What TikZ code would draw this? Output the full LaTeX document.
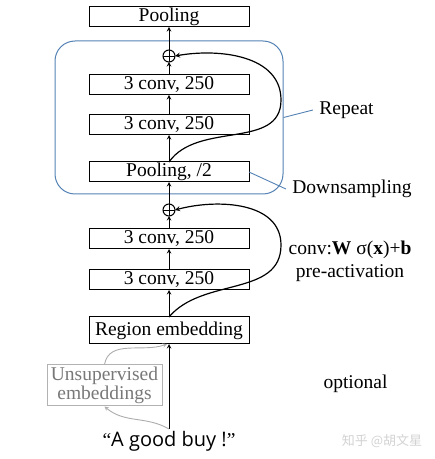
\documentclass[tikz,border=0pt]{standalone}
\usepackage{fontspec}
\setmainfont{Liberation Serif}
\newfontfamily\quotefont{Open Sans}
\newfontfamily\cjkfont{Noto Sans CJK SC}
\usetikzlibrary{positioning}
\usetikzlibrary{arrows}
\usetikzlibrary{shapes}
\definecolor{boxblue}{RGB}{84,130,180}
\definecolor{embedgray}{RGB}{120,120,120}
\tikzset{
        textnode/.style={align=center,inner sep=0pt,font=\fontsize{19.5}{23}\selectfont},
        % Layer boxes
        layer/.style={textnode, rectangle, draw=black, line width=1pt, outer sep=0pt, minimum width=160pt, minimum height=20pt},
        % Addition nodes
        addnode/.style={circle, draw=black, line width=1pt, outer sep=0pt, inner sep=0pt, minimum size=12pt,
            path picture={\draw[line width=0.8pt] (path picture bounding box.north) -- (path picture bounding box.south)
                (path picture bounding box.west) -- (path picture bounding box.east);}},
        % Repeated block
        repeatbox/.style={rectangle, rounded corners=20pt, draw=boxblue, line width=1pt, minimum width=228pt, minimum height=153pt},
        % Side labels
        sidelabel/.style={textnode, inner sep=6pt},
        callout/.style={draw=boxblue, line width=0.9pt},
        % Optional embedding input
        embedbox/.style={textnode, rectangle, draw=gray!60, text=embedgray, line width=1pt, minimum width=115pt, minimum height=41pt,
            font=\fontsize{19.5}{19}\selectfont},
        embedarrow/.style={->, draw=gray!65, line width=0.9pt},
        % Skip connections
        skip/.style={->, line width=1.2pt}
}

\begin{document}
\begin{tikzpicture}[x=1pt, y=1pt, >=stealth, line width=1pt]
    \useasboundingbox (0,0) rectangle (435,459);

    \node[layer, minimum height=27pt] (region) at (169,128.5) {Region embedding};
    \node[layer, above=27pt of region] (conv1) {3 conv, 250};
    \node[layer, above=21pt of conv1] (conv2) {3 conv, 250};
    \node[addnode, above=13pt of conv2] (plus2) {};
    \node[layer, above=22pt of plus2] (pool2) {Pooling, /2};
    \node[layer, above=27pt of pool2] (conv3) {3 conv, 250};
    \node[layer, above=20pt of conv3] (conv4) {3 conv, 250};
    \node[addnode, above=13pt of conv4] (plus1) {};
    \node[layer, above=23pt of plus1] (pool) {Pooling};

    \node[repeatbox] (rep) at (169,341.5) {};

    \node[sidelabel] (reptxt) at (346.5,349) {Repeat};
    \node[sidelabel] (down) at (352,270) {Downsampling};
    \node[sidelabel] (convtxt) at (350,198) {conv:\textbf{W} σ(\textbf{x})+\textbf{b}\\pre-activation};
    \node[sidelabel] (opt) at (355.5,75.5) {optional};

    \node[embedbox] (unsup) at (104.5,73.5) {Unsupervised\\embeddings};
    \node[textnode, inner sep=2pt] (say) at (169,17.5) {“{\quotefont\fontsize{20}{22}\selectfont A good buy !}”};
    \node[font=\cjkfont\fontsize{13}{13}\selectfont, text=gray!35] (mark) at (382,18) {知乎 @胡文星};

    \coordinate (turn1) at (281,359);
    \coordinate (turn2) at (281,214);

    % main path
    \draw[->] (say) -- (region);
    \draw[->] (region) -- (conv1);
    \draw[->] (conv1) -- (conv2);
    \draw[->] (conv2) -- (plus2);
    \draw[->] (plus2) -- (pool2);
    \draw[->] (pool2) -- (conv3);
    \draw[->] (conv3) -- (conv4);
    \draw[->] (conv4) -- (plus1);
    \draw[->] (plus1) -- (pool);

    % shortcuts
    \draw[skip] (region.north) to[out=50,in=-90] (turn2) to[out=90,in=15] (plus2.east);
    \draw[skip] (pool2.north) to[out=55,in=-90] (turn1) to[out=90,in=10] (plus1.east);

    \draw[embedarrow] (say.north) to[out=150,in=-40] (unsup.south);
    \draw[embedarrow] (unsup.north) to[out=80,in=200] ([xshift=-2pt]region.south);

    \draw[callout] (rep.east) -- (reptxt.west);
    \draw[callout] (pool2.east) -- (down.west);
\end{tikzpicture}
\end{document}
